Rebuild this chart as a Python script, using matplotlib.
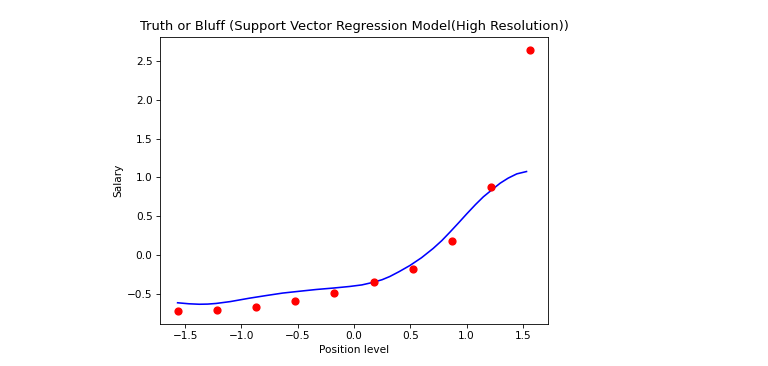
import matplotlib.pyplot as plt

# scaled position levels and salaries (the red points)
level = [-1.567, -1.218, -0.870, -0.522, -0.174, 0.174, 0.522, 0.870, 1.218, 1.567]
salary = [-0.720, -0.702, -0.667, -0.597, -0.491, -0.350, -0.174, 0.178, 0.882, 2.643]

# SVR prediction curve
grid_x = [-1.567, -1.467, -1.375, -1.300, -1.226, -1.100, -0.929, -0.780, -0.633,
          -0.480, -0.335, -0.180, -0.038, 0.070, 0.170, 0.250, 0.318, 0.400,
          0.497, 0.600, 0.704, 0.780, 0.853, 0.930, 1.002, 1.080, 1.150,
          1.230, 1.299, 1.370, 1.447, 1.533]
grid_y = [-0.615, -0.628, -0.634, -0.632, -0.624, -0.600, -0.556, -0.522, -0.490,
          -0.466, -0.444, -0.425, -0.405, -0.385, -0.352, -0.318, -0.277, -0.215,
          -0.135, -0.035, 0.085, 0.185, 0.295, 0.415, 0.530, 0.650, 0.750,
          0.845, 0.925, 0.990, 1.045, 1.075]

fig = plt.figure(figsize=(7.68, 3.66), dpi=100)
ax = fig.add_axes([0.2083, 0.1148, 0.5052, 0.7849])

ax.scatter(level, salary, color="red", s=24, zorder=3)
ax.plot(grid_x, grid_y, color="blue", lw=1.15)

fs = 7.6
ax.set_title("Truth or Bluff (Support Vector Regression Model(High Resolution))",
             fontsize=9.4, pad=5)
ax.set_xlabel("Position level", fontsize=fs, labelpad=2.5)
ax.set_ylabel("Salary", fontsize=fs, labelpad=2.5)
ax.tick_params(labelsize=fs, width=0.6, length=2.7, pad=2.6)
for s in ax.spines.values():
    s.set_linewidth(0.6)

ax.set_xticks([-1.5, -1.0, -0.5, 0.0, 0.5, 1.0, 1.5])
ax.set_yticks([-0.5, 0.0, 0.5, 1.0, 1.5, 2.0, 2.5])

fig.savefig("out.png", dpi=100)
